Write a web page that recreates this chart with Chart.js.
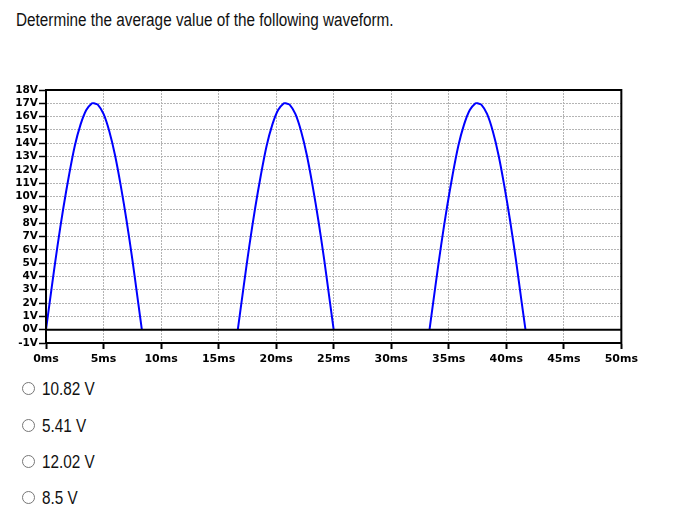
<!DOCTYPE html>
<html>
<head>
<meta charset="utf-8">
<script src="https://cdn.jsdelivr.net/npm/chart.js@4"></script>
<style>
  body { margin: 0; background: #fff; width: 691px; height: 523px; position: relative; overflow: hidden; }
  .title { position: absolute; left: 16px; top: 10px; font: 18px "Liberation Sans", Arial, sans-serif; color: #111; transform: scaleX(0.85); transform-origin: left top; white-space: nowrap; }
  .wrap { position: absolute; left: 0; top: 80px; width: 642px; height: 290px; }
  .opt { position: absolute; left: 22px; font: 18px "Liberation Sans", Arial, sans-serif; color: #111; height: 20px; line-height: 20px; white-space: nowrap; }
  .opt span.dot { display: inline-block; width: 11px; height: 11px; border: 1px solid #777; border-radius: 50%; vertical-align: middle; margin-right: 7px; position: relative; top: -2px; }
  .opt span.txt { display: inline-block; transform: scaleX(0.85); transform-origin: left center; }
</style>
</head>
<body>
<div class="title">Determine the average value of the following waveform.</div>
<div class="wrap"><canvas id="wave"></canvas></div>
<div class="opt" style="top:379px"><span class="dot"></span><span class="txt">10.82 V</span></div>
<div class="opt" style="top:416px"><span class="dot"></span><span class="txt">5.41 V</span></div>
<div class="opt" style="top:452px"><span class="dot"></span><span class="txt">12.02 V</span></div>
<div class="opt" style="top:488px"><span class="dot"></span><span class="txt">8.5 V</span></div>
<script>
// tid i ms och spänning i V (null = ingen kurva mellan pulserna)
const tiderMs = [
  0, 0.5, 1, 1.5, 2, 2.5, 3, 3.5, 4, 4.17, 4.5, 5, 5.5, 6, 6.5, 7, 7.5, 8, 8.33,
  12.5,
  16.67, 17.17, 17.67, 18.17, 18.67, 19.17, 19.67, 20.17, 20.67, 20.83, 21.17, 21.67, 22.17, 22.67, 23.17, 23.67, 24.17, 24.67, 25.0,
  29.17,
  33.33, 33.83, 34.33, 34.83, 35.33, 35.83, 36.33, 36.83, 37.33, 37.5, 37.83, 38.33, 38.83, 39.33, 39.83, 40.33, 40.83, 41.33, 41.67
];
const spanning = [
  0, 3.2, 6.3, 9.1, 11.6, 13.8, 15.4, 16.5, 17.0, 17.0, 16.9, 16.2, 14.9, 13.1, 10.8, 8.2, 5.3, 2.1, 0,
  null,
  0, 3.2, 6.3, 9.1, 11.6, 13.8, 15.4, 16.5, 17.0, 17.0, 16.9, 16.2, 14.9, 13.1, 10.8, 8.2, 5.3, 2.1, 0,
  null,
  0, 3.2, 6.3, 9.1, 11.6, 13.8, 15.4, 16.5, 17.0, 17.0, 16.9, 16.2, 14.9, 13.1, 10.8, 8.2, 5.3, 2.1, 0
];
// nollinjen
const nollTid = [0, 50];
const nollV = [0, 0];

const xMin = 0, xMax = 50, xSteg = 5;
const yMin = -1, yMax = 18, ySteg = 1;

const kurva = tiderMs.map((t, i) => ({ x: t, y: spanning[i] }));
const nollinje = nollTid.map((t, i) => ({ x: t, y: nollV[i] }));

// ram runt hela plotytan
const ramPlugin = {
  id: 'ram',
  afterDatasetsDraw(chart) {
    const a = chart.chartArea;
    const ctx = chart.ctx;
    ctx.save();
    ctx.strokeStyle = '#000';
    ctx.lineWidth = 2;
    ctx.strokeRect(a.left, a.top, a.right - a.left, a.bottom - a.top);
    ctx.restore();
  }
};

new Chart(document.getElementById('wave').getContext('2d'), {
  type: 'line',
  data: {
    datasets: [
      { data: nollinje, borderColor: '#000', borderWidth: 2, pointRadius: 0, order: 0 },
      { data: kurva, borderColor: '#0000ff', borderWidth: 2, pointRadius: 0, tension: 0.3, spanGaps: false, order: 1 }
    ]
  },
  options: {
    responsive: true,
    maintainAspectRatio: false,
    animation: false,
    layout: { padding: { top: 10, right: 0, left: 0, bottom: 0 } },
    plugins: { legend: { display: false }, tooltip: { enabled: false } },
    scales: {
      x: {
        type: 'linear', min: xMin, max: xMax,
        ticks: { stepSize: xSteg, color: '#000', font: { family: 'DejaVu Sans', weight: 'bold', size: 11 }, padding: 4, maxRotation: 0, autoSkip: false,
          callback: v => v + 'ms' },
        grid: { color: '#b4b4b4', lineWidth: 1, tickLength: 6, tickColor: '#000', tickWidth: 2, tickBorderDash: [1, 0] },
        border: { color: '#000', width: 2, dash: [2, 1] },
        afterFit: s => { s.height = 27; }
      },
      y: {
        type: 'linear', min: yMin, max: yMax,
        ticks: { stepSize: ySteg, color: '#000', font: { family: 'DejaVu Sans', weight: 'bold', size: 10.5 }, padding: 1, autoSkip: false,
          callback: v => v + 'V' },
        grid: { color: '#b4b4b4', lineWidth: 1, tickLength: 7, tickColor: '#000', tickWidth: 1.5, tickBorderDash: [1, 0] },
        border: { color: '#000', width: 2, dash: [2, 1] },
        afterFit: s => { s.width = 46; }
      }
    }
  },
  plugins: [ramPlugin]
});
</script>
</body>
</html>
